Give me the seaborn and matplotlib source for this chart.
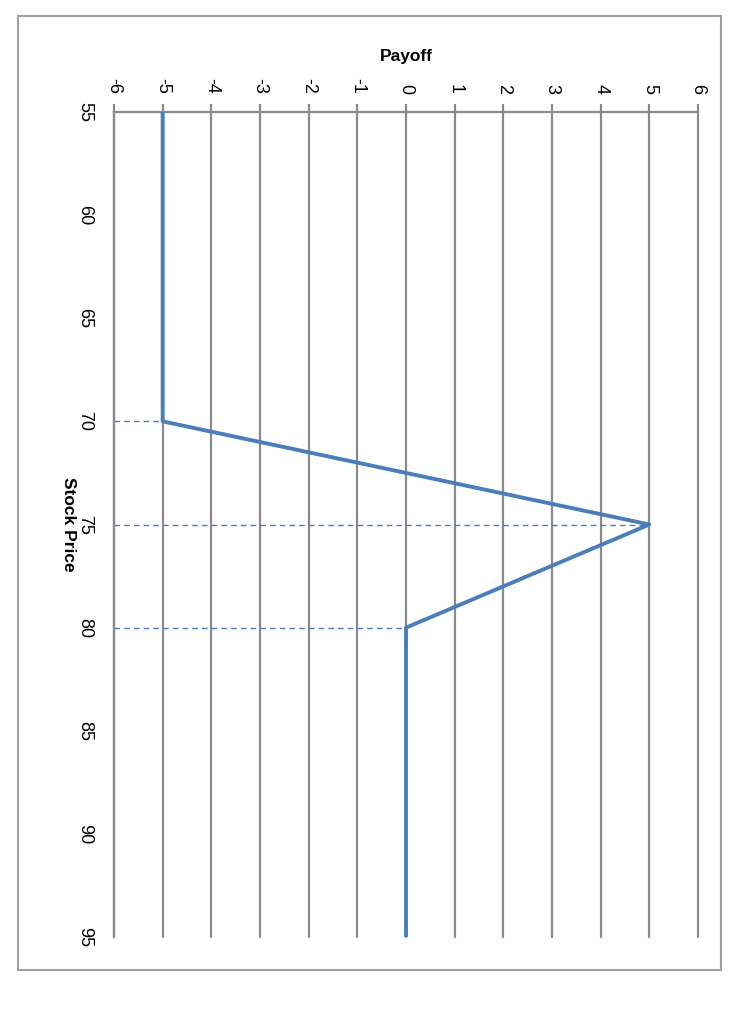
import matplotlib
matplotlib.use("Agg")
import matplotlib.pyplot as plt
import seaborn as sns
import pandas as pd
from matplotlib.patches import Rectangle

# Data
stock_price = [55, 70, 75, 80, 95]
payoff = [-5, -5, 5, 0, 0]
marker_prices = [70, 75, 80]
marker_payoffs = [-5, 5, 0]
payoff_ticks = list(range(-6, 7))
price_ticks = [55, 60, 65, 70, 75, 80, 85, 90, 95]

sns.set_style("white")
plt.rcParams['font.family'] = ['Liberation Sans', 'DejaVu Sans']
plt.rcParams['text.color'] = 'black'
plt.rcParams['axes.labelcolor'] = 'black'
plt.rcParams['xtick.labelcolor'] = 'black'
plt.rcParams['ytick.labelcolor'] = 'black'

fig = plt.figure(figsize=(7.39, 10.24), dpi=100)
W, H = 739, 1024
left, right, top, bottom = 114, 698, 112, 937
ax = fig.add_axes([left / W, 1 - bottom / H, (right - left) / W, (bottom - top) / H])

df = pd.DataFrame({"Stock Price": stock_price, "Payoff": payoff})
grid_c = "#8a8a8a"
line_c = "#4a7ebb"

# gridlines (vertical at each payoff tick)
for p in payoff_ticks:
    ax.axvline(p, color=grid_c, lw=1.6, zorder=1, clip_on=False)

# dashed drop lines
ax.hlines(marker_prices, -6, marker_payoffs, colors=line_c, linestyles=(0, (4, 3)), lw=1.0, zorder=2)

sns.lineplot(data=df, x="Payoff", y="Stock Price", sort=False, estimator=None,
             color=line_c, lw=2.8, ax=ax, zorder=3)

ax.set_xlim(-6, 6)
ax.set_ylim(95, 55)

ax.xaxis.set_ticks_position('top')
ax.xaxis.set_label_position('top')
ax.set_xticks(payoff_ticks)
ax.set_xticklabels([str(p) for p in payoff_ticks], rotation=-90, fontsize=13, color='black')
ax.set_yticks(price_ticks)
ax.set_yticklabels([str(p) for p in price_ticks], rotation=-90, fontsize=13, va='center', color='black')

ax.tick_params(axis='x', which='major', direction='out', length=6, width=1.6, color=grid_c, pad=7)
ax.tick_params(axis='y', which='major', direction='out', length=6, width=1.6, color=grid_c, pad=9)

for s in ['right', 'bottom']:
    ax.spines[s].set_visible(False)
for s in ['top', 'left']:
    ax.spines[s].set_color(grid_c)
    ax.spines[s].set_linewidth(1.6)

ax.set_xlabel("Payoff", fontsize=12.5, fontweight='bold', color='black')
ax.xaxis.set_label_coords(0.5, (bottom - 57) / (bottom - top), transform=ax.transAxes)
ax.xaxis.label.set_va('center')
ax.set_ylabel("Stock Price", fontsize=12.5, fontweight='bold', rotation=-90, color='black')
ax.yaxis.set_label_coords((68 - left) / (right - left), 0.5)
ax.yaxis.label.set_va('center')
ax.yaxis.label.set_ha('center')

# outer chart border
fig.patches.append(Rectangle((18 / W, 1 - 970 / H), (721 - 18) / W, (970 - 16) / H,
                             transform=fig.transFigure, fill=False, edgecolor="#a0a0a0", lw=1.5))

fig.savefig("out.png", dpi=100)
